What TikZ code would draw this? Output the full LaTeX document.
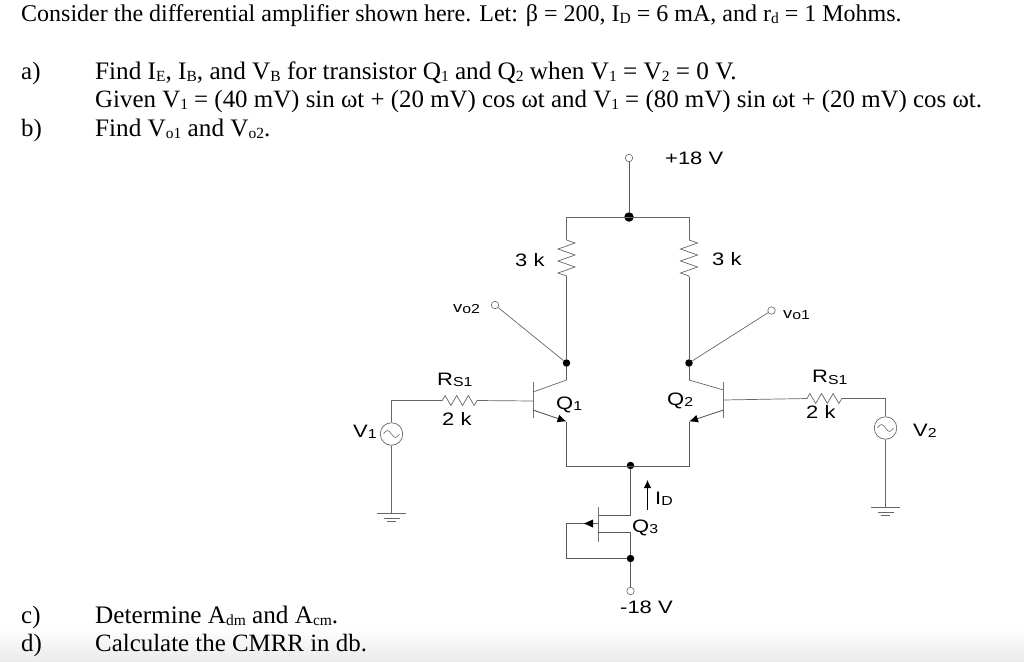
\documentclass[tikz,border=0pt]{standalone}
\usepackage{fontspec}
\setmainfont{Liberation Serif}
\newfontfamily\labfont[FakeStretch=1.22]{Liberation Sans}
\usetikzlibrary{arrows.meta,calc,decorations.pathmorphing}
\newcommand{\sbs}[1]{\raisebox{-0.08em}{\fontsize{15.5}{17}\selectfont #1}}
\newcommand{\cbs}[1]{\raisebox{-0.1em}{\fontsize{13}{14}\selectfont #1}}
\tikzset{
  x=1pt,y=-1pt,
  wire/.style={draw=black!65,line width=0.9pt},
  thin wire/.style={draw=black!60,line width=0.7pt},
  bar/.style={draw=black!55,line width=0.9pt},
  junction/.style={circle,fill=black,inner sep=0pt,minimum size=7.5pt},
  bigjunction/.style={circle,fill=black,inner sep=0pt,minimum size=9.5pt},
  terminal/.style={circle,draw=black!60,fill=white,line width=0.6pt,inner sep=0pt,minimum size=7.5pt},
  source/.style={circle,draw=black!60,fill=white,line width=0.7pt,inner sep=0pt,minimum size=22.5pt},
  prose/.style={anchor=base west,inner sep=0pt,font=\fontsize{24.9}{26}\selectfont},
  wide prose/.style={prose,font=\fontsize{25.2}{26}\selectfont},
  lab/.style={inner sep=0pt,font=\labfont\fontsize{18}{19}\selectfont},
  smalllab/.style={inner sep=0pt,font=\labfont\fontsize{15}{16}\selectfont},
  hres/.style={thin wire,decoration={zigzag,segment length=11.6pt,amplitude=5pt},decorate},
  vres/.style={thin wire,decoration={zigzag,segment length=12pt,amplitude=8.5pt},decorate},
  emit/.style={wire,-{Latex[length=9pt,width=8pt,black]}},
}
\begin{document}
\begin{tikzpicture}
\useasboundingbox (0,0) rectangle (1024,661);
\shade[top color=white,bottom color=black!8] (0,628) rectangle (1024,661);

% prose
\node[prose,font=\fontsize{24}{26}\selectfont] (t0) at (21,22) {Consider the differential amplifier shown here. Let: β = 200, I\sbs{D} = 6 mA, and r\sbs{d} = 1 Mohms.};
\node[prose] (la) at (21,79.5) {a)};
\node[wide prose] (ta) at (95,79.5) {Find I\sbs{E}, I\sbs{B}, and V\sbs{B} for transistor Q\sbs{1} and Q\sbs{2} when V\sbs{1} = V\sbs{2} = 0 V.};
\node[prose] (tg) at (95,107.5) {Given V\sbs{1} = (40 mV) sin ωt + (20 mV) cos ωt and V\sbs{1} = (80 mV) sin ωt + (20 mV) cos ωt.};
\node[prose] (lb) at (21,136.5) {b)};
\node[wide prose] (tb) at (95,136.5) {Find V\sbs{o1} and V\sbs{o2}.};
\node[prose] (lc) at (21,623) {c)};
\node[wide prose] (tc) at (95,623) {Determine A\sbs{dm} and A\sbs{cm}.};
\node[prose] (ld) at (21,651.5) {d)};
\node[prose] (td) at (95,651.5) {Calculate the CMRR in db.};

% coordinates
\coordinate (rlt) at (566.5,240); \coordinate (rlb) at (566.5,277);
\coordinate (rrt) at (689,240);   \coordinate (rrb) at (689,277);
\coordinate (topl) at (566.5,217); \coordinate (topr) at (689,217);
\coordinate (cl) at (566.5,380); \coordinate (el) at (566.5,421.5);
\coordinate (cr) at (689,380);   \coordinate (er) at (689,421.5);
\coordinate (bl) at (533,392); \coordinate (bel) at (533,410);
\coordinate (br) at (723.5,390); \coordinate (ber) at (723.5,410);
\coordinate (bbl) at (533,401); \coordinate (bbr) at (723.5,400);
\coordinate (botl) at (566.5,466); \coordinate (botr) at (689,466);
\coordinate (rsla) at (477,400.5); \coordinate (rslb) at (440,400.5);
\coordinate (rsra) at (807,398.5); \coordinate (rsrb) at (843,398.5);
\coordinate (srctl) at (391.5,400.5); \coordinate (srctr) at (885.5,398.5);
\coordinate (gl) at (391.5,513); \coordinate (gr) at (885.5,507);
\coordinate (md) at (630.5,515); \coordinate (mdg) at (598,515);
\coordinate (ms) at (630.5,532.5); \coordinate (msg) at (598,532.5);
\coordinate (mgl) at (566,523.5); \coordinate (mgr) at (598,523.5);
\coordinate (mfb) at (566,558.5);
\coordinate (ida) at (647.5,510); \coordinate (idb) at (647.5,480);

% nodes
\node[bigjunction] (jt) at (629,217) {};
\node[terminal] (vcc) at (629,158) {};
\node[junction] (jl) at (566.5,363) {};
\node[junction] (jr) at (689,363) {};
\node[terminal] (ol) at (495,305) {};
\node[terminal] (or) at (771.5,310.5) {};
\node[junction] (je) at (630.5,465.5) {};
\node[junction] (jm) at (630.5,558.5) {};
\node[terminal] (vee) at (630.5,591) {};
\node[source] (sl) at (391.5,434) {};
\node[source] (sr) at (885.5,428) {};

% supply and collector loads
\draw[wire] (vcc) -- (jt);
\draw[thin wire] (rlt) -- (topl) -- (topr) -- (rrt);
\draw[vres] (rlt) -- (rlb);
\draw[vres] (rrt) -- (rrb);
\draw[wire] (rlb) -- (jl) -- (cl);
\draw[wire] (rrb) -- (jr) -- (cr);
\draw[thin wire] (jl) -- (ol);
\draw[thin wire] (jr) -- (or);

% Q1, Q2
\draw[thin wire] (cl) -- (bl);
\draw[thin wire] (cr) -- (br);
\draw[bar] (533,382) -- (533,418);
\draw[bar] (723.5,382) -- (723.5,418);
\draw[emit] (bel) -- (el);
\draw[emit] (ber) -- (er);
\draw[wire] (el) -- (botl) -- (botr) -- (er);

% bases
\draw[thin wire] (bbl) -- (rsla);
\draw[hres] (rsla) -- (rslb);
\draw[thin wire] (rslb) -- (srctl) -- (sl);
\draw[thin wire] (bbr) -- (rsra);
\draw[hres] (rsra) -- (rsrb);
\draw[thin wire] (rsrb) -- (srctr) -- (sr);

% sources
\draw[thin wire] (sl) -- (gl);
\draw[thin wire] (sr) -- (gr);
\foreach \s in {sl,sr}{
  \draw[draw=black!60,line width=0.6pt] ($(\s)+(-8,0)$) sin +(4,-3.5) cos +(4,3.5) sin +(4,3.5) cos +(4,-3.5);
}
% grounds
\draw[thin wire] ($(gl)+(-14.5,0)$) -- ($(gl)+(14.5,0)$);
\draw[thin wire] ($(gl)+(-8,5)$) -- ($(gl)+(8,5)$);
\draw[thin wire] ($(gl)+(-4.5,8)$) -- ($(gl)+(4.5,8)$);
\draw[thin wire] ($(gr)+(-14.5,0)$) -- ($(gr)+(14.5,0)$);
\draw[thin wire] ($(gr)+(-8,5)$) -- ($(gr)+(8,5)$);
\draw[thin wire] ($(gr)+(-4.5,8)$) -- ($(gr)+(4.5,8)$);

% Q3
\draw[wire] (je) -- (md) -- (mdg);
\draw[bar] (598,506.5) -- (598,541.5);
\draw[wire] (msg) -- (ms) -- (jm);
\draw[wire] (jm) -- (mfb) -- (mgl) -- (mgr);
\draw[wire] (jm) -- (vee);
\fill[black] (584,523.5) -- (593,519.5) -- (593,527.5) -- cycle;

% ID
\draw[line width=0.8pt,-{Latex[length=8pt,width=7.5pt]}] (ida) -- (idb);

% labels
\node[lab,anchor=base west] (lvcc) at (665,164) {+18 V};
\node[lab,anchor=base west] (lvee) at (620,613) {-18 V};
\node[lab,anchor=base west] (lr1) at (515,266.5) {3 k};
\node[lab,anchor=base west] (lr2) at (712,265) {3 k};
\node[smalllab,anchor=base west] (lo2) at (453,312) {v\cbs{o2}};
\node[smalllab,anchor=base west] (lo1) at (783,318) {v\cbs{o1}};
\node[lab,anchor=base west] (lrs1) at (437,385) {R\cbs{S1}};
\node[lab,anchor=base west] (lk1) at (442,425) {2 k};
\node[lab,anchor=base west] (lrs2) at (812,382.5) {R\cbs{S1}};
\node[lab,anchor=base west] (lk2) at (806,418.5) {2 k};
\node[lab,anchor=base west] (lv1) at (353,437) {V\cbs{1}};
\node[lab,anchor=base west] (lv2) at (913,436) {V\cbs{2}};
\node[lab,anchor=base west] (lq1) at (556,409) {Q\cbs{1}};
\node[lab,anchor=base west] (lq2) at (667,405) {Q\cbs{2}};
\node[lab,anchor=base west] (lq3) at (632,532) {Q\cbs{3}};
\node[lab,anchor=base west] (lid) at (655,504) {I\cbs{D}};
\end{tikzpicture}
\end{document}
